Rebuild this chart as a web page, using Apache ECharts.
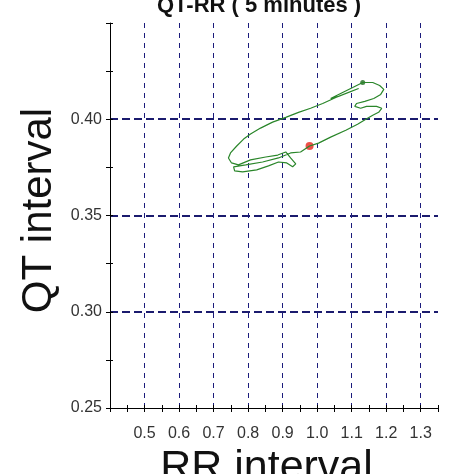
<!DOCTYPE html>
<html>
<head>
<meta charset="utf-8">
<script src="https://cdn.jsdelivr.net/npm/echarts@6/dist/echarts.min.js"></script>
<style>
  html, body { margin: 0; padding: 0; background: #fff; }
  #chart { width: 474px; height: 474px; }
</style>
</head>
<body>
<div id="chart"></div>
<script>
// RR (s) and QT (s) trace over 5 minutes
const rrValues = [0.978, 1.004, 1.039, 1.083, 1.117, 1.141, 1.161, 1.178, 1.187, 1.172,
  1.143, 1.126, 1.109, 1.114, 1.138, 1.164, 1.184, 1.193, 1.181, 1.161,
  1.132, 1.103, 1.068, 1.039, 1.062, 1.097, 1.120, 1.091, 1.054, 1.016,
  0.981, 0.946, 0.909, 0.871, 0.836, 0.807, 0.787, 0.767, 0.749, 0.743,
  0.752, 0.772, 0.807, 0.851, 0.886, 0.909, 0.923, 0.938, 0.929, 0.912,
  0.888, 0.859, 0.825, 0.784, 0.761, 0.758, 0.793, 0.842, 0.888, 0.923,
  0.952, 0.978];
const qtValues = [0.3861, 0.3876, 0.3907, 0.3943, 0.3974, 0.4000, 0.4021, 0.4036, 0.4057, 0.4067,
  0.4067, 0.4057, 0.4067, 0.4082, 0.4093, 0.4108, 0.4129, 0.4155, 0.4175, 0.4191,
  0.4191, 0.4165, 0.4134, 0.4108, 0.4119, 0.4144, 0.4160, 0.4139, 0.4113, 0.4082,
  0.4057, 0.4036, 0.4010, 0.3985, 0.3954, 0.3923, 0.3897, 0.3861, 0.3825, 0.3799,
  0.3773, 0.3763, 0.3789, 0.3804, 0.3814, 0.3830, 0.3799, 0.3768, 0.3753, 0.3773,
  0.3778, 0.3758, 0.3737, 0.3727, 0.3732, 0.3753, 0.3763, 0.3778, 0.3799, 0.3825,
  0.3830, 0.3861];
// current beat (red) and end marker
const currentPoint = [0.978, 0.3861];
const endPoint = [1.132, 0.4191];

const xTickLabels = ['0.5', '0.6', '0.7', '0.8', '0.9', '1.0', '1.1', '1.2', '1.3'];
const yTickLabels = ['0.25', '0.30', '0.35', '0.40'];

const chart = echarts.init(document.getElementById('chart'));

const trace = rrValues.map((rr, i) => [rr, qtValues[i]]);

const xRange = { min: 0.4, max: 1.35, interval: 0.1 };
const yRange = { min: 0.25, max: 0.45, interval: 0.05 };

// second pair of axes only draws the inner half of the ticks, so they cross the axis
const innerTicks = {
  axisLine: { show: false },
  axisTick: { inside: true, length: 3, lineStyle: { color: '#000' } },
  minorTick: { show: true, splitNumber: 2, length: 3, lineStyle: { color: '#000' } },
  axisLabel: { show: false },
  splitLine: { show: false }
};

chart.setOption({
  animation: false,
  backgroundColor: '#fff',
  title: {
    text: 'QT-RR ( 5 minutes )',
    left: 157,
    top: -5,
    padding: 0,
    textStyle: { fontFamily: 'Liberation Sans', fontSize: 22, fontWeight: 'bold', color: '#111' }
  },
  grid: { left: 110, right: 36, top: 23, bottom: 66, outerBoundsMode: 'none' },
  xAxis: [{
    type: 'value',
    ...xRange,
    name: 'RR interval',
    nameLocation: 'middle',
    nameGap: 37,
    nameTextStyle: { fontFamily: 'Liberation Sans', fontSize: 43, color: '#111', padding: [0, 15, 0, 0] },
    axisLine: { lineStyle: { color: '#000', width: 1 } },
    axisTick: { length: 4, lineStyle: { color: '#000' } },
    minorTick: { show: true, splitNumber: 2, length: 4, lineStyle: { color: '#000' } },
    axisLabel: {
      margin: 18,
      fontFamily: 'Liberation Sans',
      fontSize: 16,
      color: '#333',
      formatter: v => {
        const s = v.toFixed(1);
        return xTickLabels.includes(s) ? s : '';
      }
    },
    splitLine: {
      show: true,
      showMinLine: false,
      showMaxLine: false,
      lineStyle: { color: '#1b1b7c', width: 1, type: [5, 5] }
    }
  }, {
    type: 'value',
    position: 'bottom',
    ...xRange,
    ...innerTicks
  }],
  yAxis: [{
    type: 'value',
    ...yRange,
    name: 'QT interval',
    nameLocation: 'middle',
    nameGap: 50,
    nameTextStyle: { fontFamily: 'Liberation Sans', fontSize: 42, color: '#111', padding: [0, 0, 0, 10] },
    axisLine: { lineStyle: { color: '#000', width: 1 } },
    axisTick: { length: 4, lineStyle: { color: '#000' } },
    minorTick: { show: true, splitNumber: 2, length: 4, lineStyle: { color: '#000' } },
    axisLabel: {
      margin: 8,
      fontFamily: 'Liberation Sans',
      fontSize: 16,
      color: '#333',
      formatter: v => {
        const s = v.toFixed(2);
        return yTickLabels.includes(s) ? s : '';
      }
    },
    splitLine: {
      show: true,
      showMinLine: false,
      showMaxLine: false,
      lineStyle: { color: '#1b1b6e', width: 2, type: [8, 4] }
    }
  }, {
    type: 'value',
    position: 'left',
    ...yRange,
    ...innerTicks
  }],
  series: [
    {
      type: 'line',
      data: trace,
      showSymbol: false,
      lineStyle: { color: '#2a862a', width: 1.2 }
    },
    {
      type: 'scatter',
      data: [endPoint],
      symbolSize: 5,
      itemStyle: { color: '#1f6e1f' }
    },
    {
      type: 'scatter',
      data: [currentPoint],
      symbolSize: 8,
      itemStyle: { color: '#e8231c' }
    }
  ]
});
</script>
</body>
</html>
